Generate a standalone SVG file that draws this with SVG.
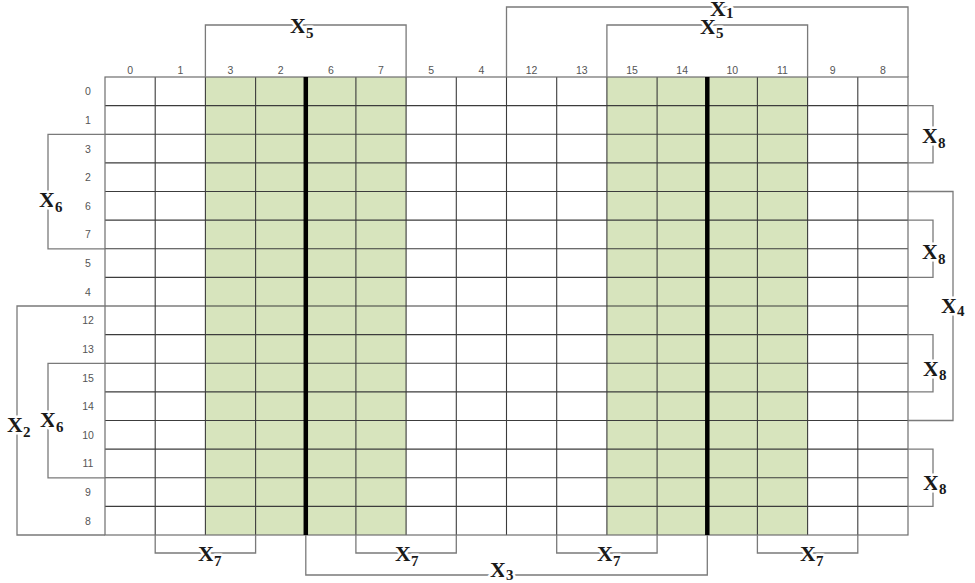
<svg xmlns="http://www.w3.org/2000/svg" width="975" height="583" viewBox="0 0 975 583">
<style>
.bg{fill:#ffffff}
.green{fill:#d7e4bd}
.gl{stroke:#3c3c3c;stroke-width:1.1;fill:none}
.border{stroke:#6e6e6e;stroke-width:1.2;fill:none}
.thick{stroke:#000;stroke-width:4.5}
.br{stroke:#7a7a7a;stroke-width:1.3;fill:none}
.hd{font-family:"Liberation Sans",Arial,sans-serif;font-size:10.5px;fill:#555;text-anchor:middle}
.lbl{font-family:"Liberation Serif","Times New Roman",serif;font-weight:bold;font-size:22px;fill:#1a1a1a;stroke:#fff;stroke-width:5;paint-order:stroke;stroke-linejoin:round}
.sub{font-size:15px}
</style>
<rect class="bg" x="0" y="0" width="975" height="583"/>
<g id="grid">
<rect class="green" x="205.4" y="77" width="200.7" height="458"/>
<rect class="green" x="606.9" y="77" width="200.7" height="458"/>
<path class="gl" d="M105 105.6H908M105 134.3H908M105 162.9H908M105 191.5H908M105 220.1H908M105 248.8H908M105 277.4H908M105 306H908M105 334.6H908M105 363.3H908M105 391.9H908M105 420.5H908M105 449.1H908M105 477.8H908M105 506.4H908M155.2 77V535M205.4 77V535M255.6 77V535M355.9 77V535M406.1 77V535M456.3 77V535M506.5 77V535M556.7 77V535M606.9 77V535M657.1 77V535M757.4 77V535M807.6 77V535M857.8 77V535"/>
<rect class="border" x="105" y="77" width="803" height="458"/>
<line class="thick" x1="305.8" y1="77" x2="305.8" y2="535"/>
<line class="thick" x1="707.3" y1="77" x2="707.3" y2="535"/>
</g>
<g id="column-headers">
<text class="hd" x="130.1" y="74">0</text>
<text class="hd" x="180.3" y="74">1</text>
<text class="hd" x="230.5" y="74">3</text>
<text class="hd" x="280.7" y="74">2</text>
<text class="hd" x="330.8" y="74">6</text>
<text class="hd" x="381" y="74">7</text>
<text class="hd" x="431.2" y="74">5</text>
<text class="hd" x="481.4" y="74">4</text>
<text class="hd" x="531.6" y="74">12</text>
<text class="hd" x="581.8" y="74">13</text>
<text class="hd" x="632" y="74">15</text>
<text class="hd" x="682.2" y="74">14</text>
<text class="hd" x="732.3" y="74">10</text>
<text class="hd" x="782.5" y="74">11</text>
<text class="hd" x="832.7" y="74">9</text>
<text class="hd" x="882.9" y="74">8</text>
</g>
<g id="row-headers">
<text class="hd" x="88" y="95.3">0</text>
<text class="hd" x="88" y="123.9">1</text>
<text class="hd" x="88" y="152.6">3</text>
<text class="hd" x="88" y="181.2">2</text>
<text class="hd" x="88" y="209.8">6</text>
<text class="hd" x="88" y="238.4">7</text>
<text class="hd" x="88" y="267.1">5</text>
<text class="hd" x="88" y="295.7">4</text>
<text class="hd" x="88" y="324.3">12</text>
<text class="hd" x="88" y="352.9">13</text>
<text class="hd" x="88" y="381.6">15</text>
<text class="hd" x="88" y="410.2">14</text>
<text class="hd" x="88" y="438.8">10</text>
<text class="hd" x="88" y="467.4">11</text>
<text class="hd" x="88" y="496.1">9</text>
<text class="hd" x="88" y="524.7">8</text>
</g>
<g id="connectors">
<path class="br" d="M205.4 77V25H406.1V77"/>
<path class="br" d="M506.5 77V7H908V77"/>
<path class="br" d="M606.9 77V25H807.6V77"/>
<path class="br" d="M908 105.6H933V162.9H908"/>
<path class="br" d="M908 220.1H933V277.4H908"/>
<path class="br" d="M908 334.6H933V391.9H908"/>
<path class="br" d="M908 449.1H933V506.4H908"/>
<path class="br" d="M908 191.5H953V420.5H908"/>
<path class="br" d="M105 134.3H48V248.8H105"/>
<path class="br" d="M105 306H17V535H105"/>
<path class="br" d="M105 363.3H48V477.8H105"/>
<path class="br" d="M155.2 535V553H255.6V535"/>
<path class="br" d="M355.9 535V553H456.3V535"/>
<path class="br" d="M556.7 535V553H657.1V535"/>
<path class="br" d="M757.4 535V553H857.8V535"/>
<path class="br" d="M305.8 535V575H707.3V535"/>
</g>
<g id="label-x5-left"><text class="lbl" x="290" y="33">X<tspan class="sub" dy="5">5</tspan></text></g>
<g id="label-x1"><text class="lbl" x="710" y="16">X<tspan class="sub" dy="2">1</tspan></text></g>
<g id="label-x5-right"><text class="lbl" x="700" y="34">X<tspan class="sub" dy="4">5</tspan></text></g>
<g id="label-x8-a"><text class="lbl" x="922" y="143">X<tspan class="sub" dy="5">8</tspan></text></g>
<g id="label-x8-b"><text class="lbl" x="922" y="259">X<tspan class="sub" dy="5">8</tspan></text></g>
<g id="label-x8-c"><text class="lbl" x="923" y="376">X<tspan class="sub" dy="4">8</tspan></text></g>
<g id="label-x8-d"><text class="lbl" x="923" y="490">X<tspan class="sub" dy="4">8</tspan></text></g>
<g id="label-x4"><text class="lbl" x="941" y="313">X<tspan class="sub" dy="3">4</tspan></text></g>
<g id="label-x6-top"><text class="lbl" x="39" y="207">X<tspan class="sub" dy="5">6</tspan></text></g>
<g id="label-x2"><text class="lbl" x="7" y="432">X<tspan class="sub" dy="5">2</tspan></text></g>
<g id="label-x6-bottom"><text class="lbl" x="40" y="427">X<tspan class="sub" dy="5">6</tspan></text></g>
<g id="label-x7-a"><text class="lbl" x="198" y="561">X<tspan class="sub" dy="5">7</tspan></text></g>
<g id="label-x7-b"><text class="lbl" x="395" y="561">X<tspan class="sub" dy="5">7</tspan></text></g>
<g id="label-x7-c"><text class="lbl" x="597" y="561">X<tspan class="sub" dy="5">7</tspan></text></g>
<g id="label-x7-d"><text class="lbl" x="800" y="561">X<tspan class="sub" dy="5">7</tspan></text></g>
<g id="label-x3"><text class="lbl" x="490" y="577">X<tspan class="sub" dy="3">3</tspan></text></g>
</svg>
